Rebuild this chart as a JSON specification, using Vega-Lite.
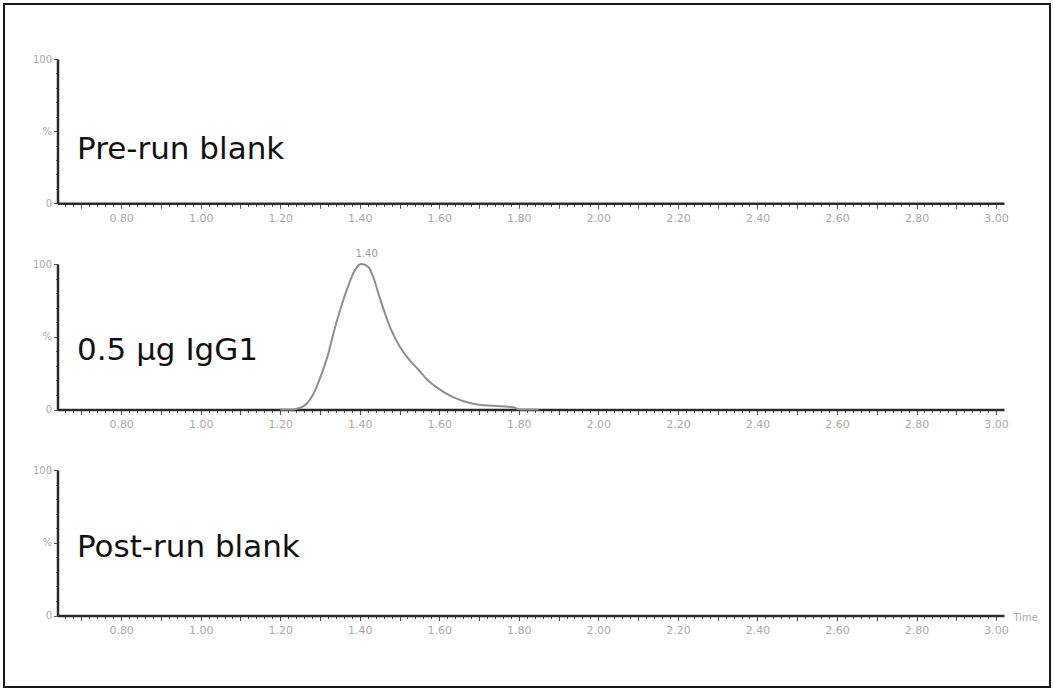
{
  "$schema": "https://vega.github.io/schema/vega-lite/v6.json",
  "description": "Chromatograms: pre-run blank, 0.5 ug IgG1 and post-run blank.",
  "autosize": {"type": "none"},
  "width": 1046,
  "height": 683,
  "padding": {"left": 4, "top": 4, "right": 3, "bottom": 5},
  "background": "white",
  "datasets": {
    "trace": [
      {"t": 1.2, "v": 0},
      {"t": 1.232, "v": 0},
      {"t": 1.2415, "v": 0.5},
      {"t": 1.2666, "v": 4},
      {"t": 1.2875, "v": 13},
      {"t": 1.3043, "v": 24.6},
      {"t": 1.3209, "v": 38.4},
      {"t": 1.3335, "v": 52},
      {"t": 1.3503, "v": 68},
      {"t": 1.3672, "v": 82},
      {"t": 1.3838, "v": 93.6},
      {"t": 1.3963, "v": 99},
      {"t": 1.4049, "v": 100},
      {"t": 1.4215, "v": 98},
      {"t": 1.4341, "v": 91},
      {"t": 1.4466, "v": 80},
      {"t": 1.4635, "v": 66},
      {"t": 1.4803, "v": 54},
      {"t": 1.5012, "v": 43},
      {"t": 1.5221, "v": 35},
      {"t": 1.5472, "v": 27.5},
      {"t": 1.57, "v": 20.5},
      {"t": 1.5942, "v": 15},
      {"t": 1.6345, "v": 8.5},
      {"t": 1.6848, "v": 4},
      {"t": 1.735, "v": 2.5},
      {"t": 1.7853, "v": 1.5},
      {"t": 1.803, "v": 0},
      {"t": 1.85, "v": 0}
    ]
  },
  "layer": [
    {
      "data": {"values": [{"sample": "Pre-run blank"}]},
      "mark": {"type": "text", "align": "left", "baseline": "alphabetic", "font": "DejaVu Sans", "fontSize": 31, "color": "#111"},
      "encoding": {
        "x": {
          "datum": 0.689, "type": "quantitative", "title": null,
          "scale": {"domain": [0.64, 3.02], "range": [53.5, 1000], "nice": false, "zero": false},
          "axis": {
            "orient": "bottom", "offset": -483.7,
            "values": [0.66,0.68,0.7,0.72,0.74,0.76,0.78,0.8,0.82,0.84,0.86,0.88,0.9,0.92,0.94,0.96,0.98,1,1.02,1.04,1.06,1.08,1.1,1.12,1.14,1.16,1.18,1.2,1.22,1.24,1.26,1.28,1.3,1.32,1.34,1.36,1.38,1.4,1.42,1.44,1.46,1.48,1.5,1.52,1.54,1.56,1.58,1.6,1.62,1.64,1.66,1.68,1.7,1.72,1.74,1.76,1.78,1.8,1.82,1.84,1.86,1.88,1.9,1.92,1.94,1.96,1.98,2,2.02,2.04,2.06,2.08,2.1,2.12,2.14,2.16,2.18,2.2,2.22,2.24,2.26,2.28,2.3,2.32,2.34,2.36,2.38,2.4,2.42,2.44,2.46,2.48,2.5,2.52,2.54,2.56,2.58,2.6,2.62,2.64,2.66,2.68,2.7,2.72,2.74,2.76,2.78,2.8,2.82,2.84,2.86,2.88,2.9,2.92,2.94,2.96,2.98,3],
            "labelExpr": "abs(datum.value * 5 - round(datum.value * 5)) < 0.01 && datum.value > 0.75 ? format(datum.value, '.2f') : ''",
            "tickSize": {"condition": {"test": "abs(datum.value * 10 - round(datum.value * 10)) < 0.01", "value": 5}, "value": 3},
            "labelPadding": 4, "labelFontSize": 11
          }
        },
        "y": {
          "datum": 30.5, "type": "quantitative", "title": null,
          "scale": {"domain": [0, 100], "range": [199.3, 55], "nice": false, "zero": false},
          "axis": {
            "orient": "left", "offset": -53.5,
            "values": [0, 10, 20, 30, 40, 50, 60, 70, 80, 90, 100],
            "labelExpr": "datum.value == 100 ? '100' : datum.value == 50 ? '%' : datum.value == 0 ? '0' : ''",
            "tickSize": {"condition": {"test": "datum.value % 50 == 0", "value": 4}, "value": 2},
            "labelPadding": 2, "labelFontSize": 10
          }
        },
        "text": {"field": "sample"}
      }
    },
    {
      "data": {"name": "trace"},
      "mark": {"type": "line", "interpolate": "monotone", "color": "#8f8f8f", "strokeWidth": 2},
      "encoding": {
        "x": {
          "field": "t", "type": "quantitative", "title": null,
          "scale": {"domain": [0.64, 3.02], "range": [53.5, 1000], "nice": false, "zero": false},
          "axis": {
            "orient": "bottom", "offset": -277.5,
            "values": [0.66,0.68,0.7,0.72,0.74,0.76,0.78,0.8,0.82,0.84,0.86,0.88,0.9,0.92,0.94,0.96,0.98,1,1.02,1.04,1.06,1.08,1.1,1.12,1.14,1.16,1.18,1.2,1.22,1.24,1.26,1.28,1.3,1.32,1.34,1.36,1.38,1.4,1.42,1.44,1.46,1.48,1.5,1.52,1.54,1.56,1.58,1.6,1.62,1.64,1.66,1.68,1.7,1.72,1.74,1.76,1.78,1.8,1.82,1.84,1.86,1.88,1.9,1.92,1.94,1.96,1.98,2,2.02,2.04,2.06,2.08,2.1,2.12,2.14,2.16,2.18,2.2,2.22,2.24,2.26,2.28,2.3,2.32,2.34,2.36,2.38,2.4,2.42,2.44,2.46,2.48,2.5,2.52,2.54,2.56,2.58,2.6,2.62,2.64,2.66,2.68,2.7,2.72,2.74,2.76,2.78,2.8,2.82,2.84,2.86,2.88,2.9,2.92,2.94,2.96,2.98,3],
            "labelExpr": "abs(datum.value * 5 - round(datum.value * 5)) < 0.01 && datum.value > 0.75 ? format(datum.value, '.2f') : ''",
            "tickSize": {"condition": {"test": "abs(datum.value * 10 - round(datum.value * 10)) < 0.01", "value": 5}, "value": 3},
            "labelPadding": 4, "labelFontSize": 11
          }
        },
        "y": {
          "field": "v", "type": "quantitative", "title": null,
          "scale": {"domain": [0, 100], "range": [405.5, 260], "nice": false, "zero": false},
          "axis": {
            "orient": "left", "offset": -53.5,
            "values": [0, 10, 20, 30, 40, 50, 60, 70, 80, 90, 100],
            "labelExpr": "datum.value == 100 ? '100' : datum.value == 50 ? '%' : datum.value == 0 ? '0' : ''",
            "tickSize": {"condition": {"test": "datum.value % 50 == 0", "value": 4}, "value": 2},
            "labelPadding": 2, "labelFontSize": 10
          }
        }
      }
    },
    {
      "data": {"values": [{"sample": "0.5 µg IgG1"}]},
      "mark": {"type": "text", "align": "left", "baseline": "alphabetic", "font": "DejaVu Sans", "fontSize": 31, "color": "#111"},
      "encoding": {
        "x": {"datum": 0.689, "type": "quantitative", "scale": {"domain": [0.64, 3.02], "range": [53.5, 1000], "nice": false, "zero": false}, "axis": null},
        "y": {"datum": 34, "type": "quantitative", "scale": {"domain": [0, 100], "range": [405.5, 260], "nice": false, "zero": false}, "axis": null},
        "text": {"field": "sample"}
      }
    },
    {
      "data": {"values": [{"rt": "1.40"}]},
      "mark": {"type": "text", "align": "center", "baseline": "middle", "font": "DejaVu Sans", "fontSize": 10, "color": "#9a9a9a"},
      "encoding": {
        "x": {"datum": 1.4175, "type": "quantitative", "scale": {"domain": [0.64, 3.02], "range": [53.5, 1000], "nice": false, "zero": false}, "axis": null},
        "y": {"datum": 107, "type": "quantitative", "scale": {"domain": [0, 100], "range": [405.5, 260], "nice": false, "zero": false}, "axis": null},
        "text": {"field": "rt"}
      }
    },
    {
      "data": {"values": [{"sample": "Post-run blank"}]},
      "mark": {"type": "text", "align": "left", "baseline": "alphabetic", "font": "DejaVu Sans", "fontSize": 31, "color": "#111"},
      "encoding": {
        "x": {
          "datum": 0.689, "type": "quantitative",
          "scale": {"domain": [0.64, 3.02], "range": [53.5, 1000], "nice": false, "zero": false},
          "axis": {
            "orient": "bottom", "offset": -71.5,
            "title": "Time", "titleX": 1009, "titleY": 2, "titleAlign": "left", "titleBaseline": "middle",
            "titleFontSize": 10, "titleFontWeight": "normal", "titleColor": "#aaa", "titleFont": "DejaVu Sans",
            "values": [0.66,0.68,0.7,0.72,0.74,0.76,0.78,0.8,0.82,0.84,0.86,0.88,0.9,0.92,0.94,0.96,0.98,1,1.02,1.04,1.06,1.08,1.1,1.12,1.14,1.16,1.18,1.2,1.22,1.24,1.26,1.28,1.3,1.32,1.34,1.36,1.38,1.4,1.42,1.44,1.46,1.48,1.5,1.52,1.54,1.56,1.58,1.6,1.62,1.64,1.66,1.68,1.7,1.72,1.74,1.76,1.78,1.8,1.82,1.84,1.86,1.88,1.9,1.92,1.94,1.96,1.98,2,2.02,2.04,2.06,2.08,2.1,2.12,2.14,2.16,2.18,2.2,2.22,2.24,2.26,2.28,2.3,2.32,2.34,2.36,2.38,2.4,2.42,2.44,2.46,2.48,2.5,2.52,2.54,2.56,2.58,2.6,2.62,2.64,2.66,2.68,2.7,2.72,2.74,2.76,2.78,2.8,2.82,2.84,2.86,2.88,2.9,2.92,2.94,2.96,2.98,3],
            "labelExpr": "abs(datum.value * 5 - round(datum.value * 5)) < 0.01 && datum.value > 0.75 ? format(datum.value, '.2f') : ''",
            "tickSize": {"condition": {"test": "abs(datum.value * 10 - round(datum.value * 10)) < 0.01", "value": 5}, "value": 3},
            "labelPadding": 4, "labelFontSize": 11
          }
        },
        "y": {
          "datum": 40.4, "type": "quantitative", "title": null,
          "scale": {"domain": [0, 100], "range": [611.5, 466], "nice": false, "zero": false},
          "axis": {
            "orient": "left", "offset": -53.5,
            "values": [0, 10, 20, 30, 40, 50, 60, 70, 80, 90, 100],
            "labelExpr": "datum.value == 100 ? '100' : datum.value == 50 ? '%' : datum.value == 0 ? '0' : ''",
            "tickSize": {"condition": {"test": "datum.value % 50 == 0", "value": 4}, "value": 2},
            "labelPadding": 2, "labelFontSize": 10
          }
        },
        "text": {"field": "sample"}
      }
    }
  ],
  "resolve": {
    "scale": {"x": "independent", "y": "independent"},
    "axis": {"x": "independent", "y": "independent"}
  },
  "config": {
    "view": {"stroke": "#1a1a1a", "strokeWidth": 2},
    "axis": {
      "grid": false,
      "domainColor": "#2b2b2b",
      "domainWidth": 2.5,
      "tickColor": "#555555",
      "tickWidth": 1,
      "labelColor": "#aaaaaa",
      "labelFont": "DejaVu Sans",
      "labelOverlap": false,
      "labelFlush": false,
      "zindex": 1
    }
  }
}
